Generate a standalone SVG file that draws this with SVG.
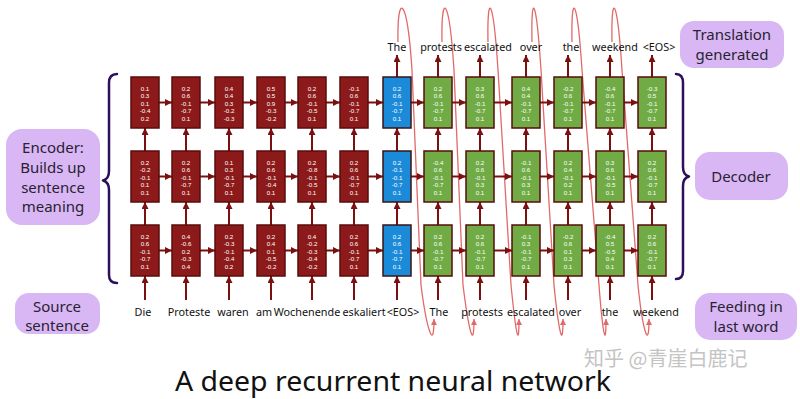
<svg xmlns="http://www.w3.org/2000/svg" width="800" height="399" viewBox="0 0 800 399">
<defs>
<marker id="ah" markerUnits="userSpaceOnUse" markerWidth="8" markerHeight="8" refX="7" refY="3.5" orient="auto"><path d="M0,0 L7,3.5 L0,7 z" fill="#7a1010"/></marker>
<marker id="ph" markerUnits="userSpaceOnUse" markerWidth="8" markerHeight="8" refX="6" refY="3" orient="auto"><path d="M0,0 L6,3 L0,6 z" fill="#e06a6a"/></marker>
<style>
.enc{fill:#8c1a1a;stroke:#5a0c0c;stroke-width:1.5}
.dec{fill:#70ab45;stroke:#5a0c0c;stroke-width:1.5}
.mid{fill:#1b8ad8;stroke:#3a1414;stroke-width:1.5}
.num{font-family:"Liberation Sans",Arial,sans-serif;font-size:6.2px;fill:#fff;text-anchor:middle}
.arr line{stroke:#7a1010;stroke-width:2;marker-end:url(#ah)}
.loop path{fill:none;stroke:#e06a6a;stroke-width:1.3;marker-end:url(#ph)}
.word{font-family:"Noto Sans","DejaVu Sans",sans-serif;font-size:10.8px;fill:#111;text-anchor:middle}
.lab rect{fill:#d8b7f4}
.lab text{font-family:"Noto Sans","DejaVu Sans",sans-serif;font-size:15px;fill:#2a2233;text-anchor:middle}
.br{fill:none;stroke:#2d0f5c;stroke-width:2.5;stroke-linecap:round;stroke-linejoin:round}
</style>
</defs>
<rect width="800" height="399" fill="#fff"/>

<g id="loops" class="loop">
<path d="M398,42 C397,-8 407,-6 412,70 L421,285 C426,325 434,355 434,319"/>
<path d="M442,42 C441,-8 449,-6 454,70 L463,285 C468,325 474,355 474,319"/>
<path d="M488,42 C487,-8 493,-6 498,70 L511,285 C515,325 519,355 519,319"/>
<path d="M532,42 C531,-8 536,-6 541,70 L554,285 C558,325 563,355 563,319"/>
<path d="M572,42 C571,-8 577,-6 582,70 L599,285 C602,325 606,355 606,319"/>
<path d="M612,42 C611,-8 617,-6 622,70 L638,285 C642,325 649,355 649,319"/>
</g>

<g id="connectors" class="arr">
<line x1="159" y1="102.5" x2="172" y2="102.5"/><line x1="200" y1="102.5" x2="215" y2="102.5"/><line x1="243" y1="102.5" x2="257" y2="102.5"/><line x1="285" y1="102.5" x2="298" y2="102.5"/><line x1="326" y1="102.5" x2="340" y2="102.5"/><line x1="368" y1="102.5" x2="383" y2="102.5"/><line x1="411" y1="102.5" x2="424" y2="102.5"/><line x1="452" y1="102.5" x2="466" y2="102.5"/><line x1="494" y1="102.5" x2="512" y2="102.5"/><line x1="540" y1="102.5" x2="554" y2="102.5"/><line x1="582" y1="102.5" x2="596" y2="102.5"/><line x1="624" y1="102.5" x2="638" y2="102.5"/>
<line x1="159" y1="176.5" x2="172" y2="176.5"/><line x1="200" y1="176.5" x2="215" y2="176.5"/><line x1="243" y1="176.5" x2="257" y2="176.5"/><line x1="285" y1="176.5" x2="298" y2="176.5"/><line x1="326" y1="176.5" x2="340" y2="176.5"/><line x1="368" y1="176.5" x2="383" y2="176.5"/><line x1="411" y1="176.5" x2="424" y2="176.5"/><line x1="452" y1="176.5" x2="466" y2="176.5"/><line x1="494" y1="176.5" x2="512" y2="176.5"/><line x1="540" y1="176.5" x2="554" y2="176.5"/><line x1="582" y1="176.5" x2="596" y2="176.5"/><line x1="624" y1="176.5" x2="638" y2="176.5"/>
<line x1="159" y1="250.5" x2="172" y2="250.5"/><line x1="200" y1="250.5" x2="215" y2="250.5"/><line x1="243" y1="250.5" x2="257" y2="250.5"/><line x1="285" y1="250.5" x2="298" y2="250.5"/><line x1="326" y1="250.5" x2="340" y2="250.5"/><line x1="368" y1="250.5" x2="383" y2="250.5"/><line x1="411" y1="250.5" x2="424" y2="250.5"/><line x1="452" y1="250.5" x2="466" y2="250.5"/><line x1="494" y1="250.5" x2="512" y2="250.5"/><line x1="540" y1="250.5" x2="554" y2="250.5"/><line x1="582" y1="250.5" x2="596" y2="250.5"/><line x1="624" y1="250.5" x2="638" y2="250.5"/>
<line x1="145" y1="300" x2="145" y2="276"/><line x1="186" y1="300" x2="186" y2="276"/><line x1="229" y1="300" x2="229" y2="276"/><line x1="271" y1="300" x2="271" y2="276"/><line x1="312" y1="300" x2="312" y2="276"/><line x1="354" y1="300" x2="354" y2="276"/><line x1="397" y1="300" x2="397" y2="276"/><line x1="438" y1="300" x2="438" y2="276"/><line x1="480" y1="300" x2="480" y2="276"/><line x1="526" y1="300" x2="526" y2="276"/><line x1="568" y1="300" x2="568" y2="276"/><line x1="610" y1="300" x2="610" y2="276"/><line x1="652" y1="300" x2="652" y2="276"/>
<line x1="145" y1="225" x2="145" y2="202"/><line x1="186" y1="225" x2="186" y2="202"/><line x1="229" y1="225" x2="229" y2="202"/><line x1="271" y1="225" x2="271" y2="202"/><line x1="312" y1="225" x2="312" y2="202"/><line x1="354" y1="225" x2="354" y2="202"/><line x1="397" y1="225" x2="397" y2="202"/><line x1="438" y1="225" x2="438" y2="202"/><line x1="480" y1="225" x2="480" y2="202"/><line x1="526" y1="225" x2="526" y2="202"/><line x1="568" y1="225" x2="568" y2="202"/><line x1="610" y1="225" x2="610" y2="202"/><line x1="652" y1="225" x2="652" y2="202"/>
<line x1="145" y1="151" x2="145" y2="128"/><line x1="186" y1="151" x2="186" y2="128"/><line x1="229" y1="151" x2="229" y2="128"/><line x1="271" y1="151" x2="271" y2="128"/><line x1="312" y1="151" x2="312" y2="128"/><line x1="354" y1="151" x2="354" y2="128"/><line x1="397" y1="151" x2="397" y2="128"/><line x1="438" y1="151" x2="438" y2="128"/><line x1="480" y1="151" x2="480" y2="128"/><line x1="526" y1="151" x2="526" y2="128"/><line x1="568" y1="151" x2="568" y2="128"/><line x1="610" y1="151" x2="610" y2="128"/><line x1="652" y1="151" x2="652" y2="128"/>
<line x1="397" y1="77" x2="397" y2="55"/><line x1="438" y1="77" x2="438" y2="55"/><line x1="480" y1="77" x2="480" y2="55"/><line x1="526" y1="77" x2="526" y2="55"/><line x1="568" y1="77" x2="568" y2="55"/><line x1="610" y1="77" x2="610" y2="55"/><line x1="652" y1="77" x2="652" y2="55"/>
</g>

<!-- Row 1 -->
<g id="c1-1"><rect class="enc" x="131" y="77" width="28" height="51"/><text class="num" y="91"><tspan x="145">0.1</tspan><tspan x="145" dy="7.4">0.3</tspan><tspan x="145" dy="7.4">0.1</tspan><tspan x="145" dy="7.4">-0.4</tspan><tspan x="145" dy="7.4">0.2</tspan></text></g>
<g id="c1-2"><rect class="enc" x="172" y="77" width="28" height="51"/><text class="num" y="91"><tspan x="186">0.2</tspan><tspan x="186" dy="7.4">0.6</tspan><tspan x="186" dy="7.4">-0.1</tspan><tspan x="186" dy="7.4">-0.7</tspan><tspan x="186" dy="7.4">0.1</tspan></text></g>
<g id="c1-3"><rect class="enc" x="215" y="77" width="28" height="51"/><text class="num" y="91"><tspan x="229">0.4</tspan><tspan x="229" dy="7.4">0.4</tspan><tspan x="229" dy="7.4">0.3</tspan><tspan x="229" dy="7.4">-0.2</tspan><tspan x="229" dy="7.4">-0.3</tspan></text></g>
<g id="c1-4"><rect class="enc" x="257" y="77" width="28" height="51"/><text class="num" y="91"><tspan x="271">0.5</tspan><tspan x="271" dy="7.4">0.5</tspan><tspan x="271" dy="7.4">0.9</tspan><tspan x="271" dy="7.4">-0.3</tspan><tspan x="271" dy="7.4">-0.2</tspan></text></g>
<g id="c1-5"><rect class="enc" x="298" y="77" width="28" height="51"/><text class="num" y="91"><tspan x="312">0.2</tspan><tspan x="312" dy="7.4">0.6</tspan><tspan x="312" dy="7.4">-0.1</tspan><tspan x="312" dy="7.4">-0.5</tspan><tspan x="312" dy="7.4">0.1</tspan></text></g>
<g id="c1-6"><rect class="enc" x="340" y="77" width="28" height="51"/><text class="num" y="91"><tspan x="354">-0.1</tspan><tspan x="354" dy="7.4">0.6</tspan><tspan x="354" dy="7.4">-0.1</tspan><tspan x="354" dy="7.4">-0.7</tspan><tspan x="354" dy="7.4">0.1</tspan></text></g>
<g id="c1-7"><rect class="mid" x="383" y="77" width="28" height="51"/><text class="num" y="91"><tspan x="397">0.2</tspan><tspan x="397" dy="7.4">0.6</tspan><tspan x="397" dy="7.4">-0.1</tspan><tspan x="397" dy="7.4">-0.7</tspan><tspan x="397" dy="7.4">0.1</tspan></text></g>
<g id="c1-8"><rect class="dec" x="424" y="77" width="28" height="51"/><text class="num" y="91"><tspan x="438">0.2</tspan><tspan x="438" dy="7.4">0.6</tspan><tspan x="438" dy="7.4">-0.1</tspan><tspan x="438" dy="7.4">-0.7</tspan><tspan x="438" dy="7.4">0.1</tspan></text></g>
<g id="c1-9"><rect class="dec" x="466" y="77" width="28" height="51"/><text class="num" y="91"><tspan x="480">0.3</tspan><tspan x="480" dy="7.4">0.6</tspan><tspan x="480" dy="7.4">-0.1</tspan><tspan x="480" dy="7.4">-0.7</tspan><tspan x="480" dy="7.4">0.1</tspan></text></g>
<g id="c1-10"><rect class="dec" x="512" y="77" width="28" height="51"/><text class="num" y="91"><tspan x="526">0.4</tspan><tspan x="526" dy="7.4">0.4</tspan><tspan x="526" dy="7.4">-0.1</tspan><tspan x="526" dy="7.4">-0.7</tspan><tspan x="526" dy="7.4">0.1</tspan></text></g>
<g id="c1-11"><rect class="dec" x="554" y="77" width="28" height="51"/><text class="num" y="91"><tspan x="568">-0.2</tspan><tspan x="568" dy="7.4">0.6</tspan><tspan x="568" dy="7.4">-0.1</tspan><tspan x="568" dy="7.4">-0.7</tspan><tspan x="568" dy="7.4">0.1</tspan></text></g>
<g id="c1-12"><rect class="dec" x="596" y="77" width="28" height="51"/><text class="num" y="91"><tspan x="610">-0.4</tspan><tspan x="610" dy="7.4">0.6</tspan><tspan x="610" dy="7.4">-0.1</tspan><tspan x="610" dy="7.4">-0.7</tspan><tspan x="610" dy="7.4">0.1</tspan></text></g>
<g id="c1-13"><rect class="dec" x="638" y="77" width="28" height="51"/><text class="num" y="91"><tspan x="652">-0.3</tspan><tspan x="652" dy="7.4">0.5</tspan><tspan x="652" dy="7.4">-0.1</tspan><tspan x="652" dy="7.4">-0.7</tspan><tspan x="652" dy="7.4">0.1</tspan></text></g>

<!-- Row 2 -->
<g id="c2-1"><rect class="enc" x="131" y="151" width="28" height="51"/><text class="num" y="165"><tspan x="145">0.2</tspan><tspan x="145" dy="7.4">-0.2</tspan><tspan x="145" dy="7.4">-0.1</tspan><tspan x="145" dy="7.4">0.1</tspan><tspan x="145" dy="7.4">0.1</tspan></text></g>
<g id="c2-2"><rect class="enc" x="172" y="151" width="28" height="51"/><text class="num" y="165"><tspan x="186">0.2</tspan><tspan x="186" dy="7.4">0.6</tspan><tspan x="186" dy="7.4">-0.1</tspan><tspan x="186" dy="7.4">-0.7</tspan><tspan x="186" dy="7.4">0.1</tspan></text></g>
<g id="c2-3"><rect class="enc" x="215" y="151" width="28" height="51"/><text class="num" y="165"><tspan x="229">0.1</tspan><tspan x="229" dy="7.4">0.3</tspan><tspan x="229" dy="7.4">-0.1</tspan><tspan x="229" dy="7.4">-0.7</tspan><tspan x="229" dy="7.4">0.1</tspan></text></g>
<g id="c2-4"><rect class="enc" x="257" y="151" width="28" height="51"/><text class="num" y="165"><tspan x="271">0.2</tspan><tspan x="271" dy="7.4">0.6</tspan><tspan x="271" dy="7.4">-0.1</tspan><tspan x="271" dy="7.4">-0.4</tspan><tspan x="271" dy="7.4">0.1</tspan></text></g>
<g id="c2-5"><rect class="enc" x="298" y="151" width="28" height="51"/><text class="num" y="165"><tspan x="312">0.2</tspan><tspan x="312" dy="7.4">-0.8</tspan><tspan x="312" dy="7.4">-0.1</tspan><tspan x="312" dy="7.4">-0.5</tspan><tspan x="312" dy="7.4">0.1</tspan></text></g>
<g id="c2-6"><rect class="enc" x="340" y="151" width="28" height="51"/><text class="num" y="165"><tspan x="354">0.2</tspan><tspan x="354" dy="7.4">0.6</tspan><tspan x="354" dy="7.4">-0.1</tspan><tspan x="354" dy="7.4">-0.7</tspan><tspan x="354" dy="7.4">0.1</tspan></text></g>
<g id="c2-7"><rect class="mid" x="383" y="151" width="28" height="51"/><text class="num" y="165"><tspan x="397">0.2</tspan><tspan x="397" dy="7.4">-0.1</tspan><tspan x="397" dy="7.4">-0.1</tspan><tspan x="397" dy="7.4">-0.7</tspan><tspan x="397" dy="7.4">0.1</tspan></text></g>
<g id="c2-8"><rect class="dec" x="424" y="151" width="28" height="51"/><text class="num" y="165"><tspan x="438">-0.4</tspan><tspan x="438" dy="7.4">0.6</tspan><tspan x="438" dy="7.4">-0.1</tspan><tspan x="438" dy="7.4">-0.7</tspan><tspan x="438" dy="7.4">0.1</tspan></text></g>
<g id="c2-9"><rect class="dec" x="466" y="151" width="28" height="51"/><text class="num" y="165"><tspan x="480">0.2</tspan><tspan x="480" dy="7.4">0.6</tspan><tspan x="480" dy="7.4">-0.1</tspan><tspan x="480" dy="7.4">0.3</tspan><tspan x="480" dy="7.4">0.1</tspan></text></g>
<g id="c2-10"><rect class="dec" x="512" y="151" width="28" height="51"/><text class="num" y="165"><tspan x="526">-0.1</tspan><tspan x="526" dy="7.4">0.6</tspan><tspan x="526" dy="7.4">-0.1</tspan><tspan x="526" dy="7.4">0.3</tspan><tspan x="526" dy="7.4">0.1</tspan></text></g>
<g id="c2-11"><rect class="dec" x="554" y="151" width="28" height="51"/><text class="num" y="165"><tspan x="568">0.2</tspan><tspan x="568" dy="7.4">0.4</tspan><tspan x="568" dy="7.4">-0.1</tspan><tspan x="568" dy="7.4">0.2</tspan><tspan x="568" dy="7.4">0.1</tspan></text></g>
<g id="c2-12"><rect class="dec" x="596" y="151" width="28" height="51"/><text class="num" y="165"><tspan x="610">0.3</tspan><tspan x="610" dy="7.4">0.6</tspan><tspan x="610" dy="7.4">-0.1</tspan><tspan x="610" dy="7.4">-0.5</tspan><tspan x="610" dy="7.4">0.1</tspan></text></g>
<g id="c2-13"><rect class="dec" x="638" y="151" width="28" height="51"/><text class="num" y="165"><tspan x="652">0.2</tspan><tspan x="652" dy="7.4">0.6</tspan><tspan x="652" dy="7.4">-0.1</tspan><tspan x="652" dy="7.4">-0.7</tspan><tspan x="652" dy="7.4">0.1</tspan></text></g>

<!-- Row 3 -->
<g id="c3-1"><rect class="enc" x="131" y="225" width="28" height="51"/><text class="num" y="239"><tspan x="145">0.2</tspan><tspan x="145" dy="7.4">0.6</tspan><tspan x="145" dy="7.4">-0.1</tspan><tspan x="145" dy="7.4">-0.7</tspan><tspan x="145" dy="7.4">0.1</tspan></text></g>
<g id="c3-2"><rect class="enc" x="172" y="225" width="28" height="51"/><text class="num" y="239"><tspan x="186">0.4</tspan><tspan x="186" dy="7.4">-0.6</tspan><tspan x="186" dy="7.4">0.2</tspan><tspan x="186" dy="7.4">-0.3</tspan><tspan x="186" dy="7.4">0.4</tspan></text></g>
<g id="c3-3"><rect class="enc" x="215" y="225" width="28" height="51"/><text class="num" y="239"><tspan x="229">0.2</tspan><tspan x="229" dy="7.4">-0.3</tspan><tspan x="229" dy="7.4">-0.1</tspan><tspan x="229" dy="7.4">-0.4</tspan><tspan x="229" dy="7.4">0.2</tspan></text></g>
<g id="c3-4"><rect class="enc" x="257" y="225" width="28" height="51"/><text class="num" y="239"><tspan x="271">0.2</tspan><tspan x="271" dy="7.4">0.4</tspan><tspan x="271" dy="7.4">0.1</tspan><tspan x="271" dy="7.4">-0.5</tspan><tspan x="271" dy="7.4">-0.2</tspan></text></g>
<g id="c3-5"><rect class="enc" x="298" y="225" width="28" height="51"/><text class="num" y="239"><tspan x="312">0.4</tspan><tspan x="312" dy="7.4">-0.2</tspan><tspan x="312" dy="7.4">-0.3</tspan><tspan x="312" dy="7.4">-0.4</tspan><tspan x="312" dy="7.4">-0.2</tspan></text></g>
<g id="c3-6"><rect class="enc" x="340" y="225" width="28" height="51"/><text class="num" y="239"><tspan x="354">0.2</tspan><tspan x="354" dy="7.4">0.6</tspan><tspan x="354" dy="7.4">-0.1</tspan><tspan x="354" dy="7.4">-0.7</tspan><tspan x="354" dy="7.4">0.1</tspan></text></g>
<g id="c3-7"><rect class="mid" x="383" y="225" width="28" height="51"/><text class="num" y="239"><tspan x="397">0.2</tspan><tspan x="397" dy="7.4">0.6</tspan><tspan x="397" dy="7.4">-0.1</tspan><tspan x="397" dy="7.4">-0.7</tspan><tspan x="397" dy="7.4">0.1</tspan></text></g>
<g id="c3-8"><rect class="dec" x="424" y="225" width="28" height="51"/><text class="num" y="239"><tspan x="438">0.2</tspan><tspan x="438" dy="7.4">0.6</tspan><tspan x="438" dy="7.4">-0.1</tspan><tspan x="438" dy="7.4">-0.7</tspan><tspan x="438" dy="7.4">0.1</tspan></text></g>
<g id="c3-9"><rect class="dec" x="466" y="225" width="28" height="51"/><text class="num" y="239"><tspan x="480">0.2</tspan><tspan x="480" dy="7.4">0.6</tspan><tspan x="480" dy="7.4">-0.1</tspan><tspan x="480" dy="7.4">-0.7</tspan><tspan x="480" dy="7.4">0.1</tspan></text></g>
<g id="c3-10"><rect class="dec" x="512" y="225" width="28" height="51"/><text class="num" y="239"><tspan x="526">-0.1</tspan><tspan x="526" dy="7.4">0.3</tspan><tspan x="526" dy="7.4">-0.1</tspan><tspan x="526" dy="7.4">-0.7</tspan><tspan x="526" dy="7.4">0.1</tspan></text></g>
<g id="c3-11"><rect class="dec" x="554" y="225" width="28" height="51"/><text class="num" y="239"><tspan x="568">-0.2</tspan><tspan x="568" dy="7.4">0.6</tspan><tspan x="568" dy="7.4">0.1</tspan><tspan x="568" dy="7.4">0.3</tspan><tspan x="568" dy="7.4">0.1</tspan></text></g>
<g id="c3-12"><rect class="dec" x="596" y="225" width="28" height="51"/><text class="num" y="239"><tspan x="610">-0.4</tspan><tspan x="610" dy="7.4">0.5</tspan><tspan x="610" dy="7.4">-0.5</tspan><tspan x="610" dy="7.4">0.4</tspan><tspan x="610" dy="7.4">0.1</tspan></text></g>
<g id="c3-13"><rect class="dec" x="638" y="225" width="28" height="51"/><text class="num" y="239"><tspan x="652">0.2</tspan><tspan x="652" dy="7.4">0.6</tspan><tspan x="652" dy="7.4">-0.1</tspan><tspan x="652" dy="7.4">-0.7</tspan><tspan x="652" dy="7.4">0.1</tspan></text></g>

<g id="input-words" class="word">
<text x="143" y="316">Die</text><text x="189" y="316">Proteste</text><text x="233" y="316">waren</text><text x="264" y="316">am</text><text x="307" y="316">Wochenende</text><text x="364" y="316">eskaliert</text><text x="403" y="316">&lt;EOS&gt;</text><text x="439" y="316">The</text><text x="482" y="316">protests</text><text x="531" y="316">escalated</text><text x="570" y="316">over</text><text x="610" y="316">the</text><text x="656" y="316">weekend</text>
</g>
<g id="output-words" class="word">
<text x="397" y="51">The</text><text x="441" y="51">protests</text><text x="488" y="51">escalated</text><text x="531" y="51">over</text><text x="571" y="51">the</text><text x="615" y="51">weekend</text><text x="659" y="51">&lt;EOS&gt;</text>
</g>

<g id="brackets">
<path class="br" d="M117,74 Q109,74 109,83 L109,171 Q109,179 103,180.5 Q109,182 109,190 L109,275 Q109,283 117,283"/>
<path class="br" d="M676,74 Q683,74 683,83 L683,167 Q683,175 689,176.5 Q683,178 683,186 L683,271 Q683,279 676,279"/>
</g>

<g id="label-encoder" class="lab"><rect x="6" y="129" width="94" height="96" rx="16"/><text x="53" y="153">Encoder:</text><text x="53" y="173">Builds up</text><text x="53" y="193">sentence</text><text x="53" y="212">meaning</text></g>
<g id="label-source" class="lab"><rect x="15" y="293" width="85" height="41" rx="14"/><text x="57" y="312">Source</text><text x="57" y="331">sentence</text></g>
<g id="label-translation" class="lab"><rect x="680" y="21" width="104" height="47" rx="14"/><text x="732" y="40">Translation</text><text x="732" y="60">generated</text></g>
<g id="label-decoder" class="lab"><rect x="695" y="152" width="93" height="48" rx="15"/><text x="741" y="182">Decoder</text></g>
<g id="label-feeding" class="lab"><rect x="695" y="293" width="102" height="47" rx="15"/><text x="746" y="312">Feeding in</text><text x="746" y="332">last word</text></g>

<text x="175" y="391" textLength="436" lengthAdjust="spacingAndGlyphs" font-family="'Noto Sans','DejaVu Sans',sans-serif" font-size="28" fill="#111">A deep recurrent neural network</text>
<text x="584" y="366" font-family="'Noto Sans CJK SC','Noto Sans',sans-serif" font-size="20" fill="#c4c4c4">知乎 @青崖白鹿记</text>
</svg>
